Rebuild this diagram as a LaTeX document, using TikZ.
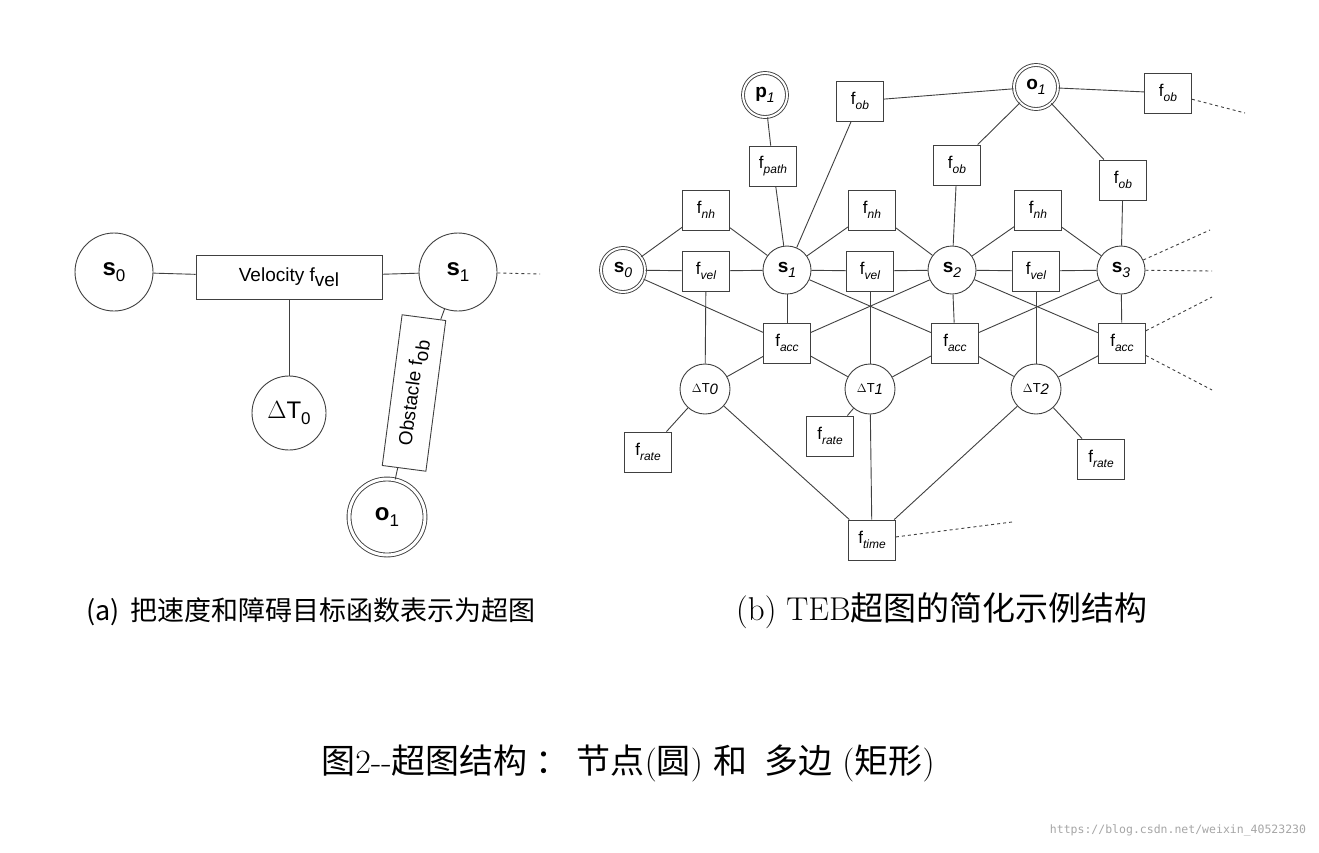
\documentclass[tikz,border=0pt]{standalone}
\usepackage{fontspec}
\newfontfamily\lib{Liberation Sans}
\newfontfamily\cjk{Noto Sans CJK SC}
\newfontfamily\mono{DejaVu Sans Mono}
\newcommand{\fx}[1]{f\raisebox{-0.5ex}{\fontsize{12}{14}\selectfont\itshape #1}}
\newcommand{\vx}[2]{\textbf{#1}\raisebox{-0.5ex}{\fontsize{14}{16}\selectfont\itshape #2}}
\newcommand{\sbx}[1]{\raisebox{-0.5ex}{\fontsize{17}{19}\selectfont #1}}
\begin{document}
\begin{tikzpicture}[x=1pt,y=-1pt,
  every node/.style={font=\lib},
  sq/.style={draw=black!75,line width=0.9pt,minimum width=47pt,minimum height=40pt,inner sep=0pt,fill=white,font=\lib\fontsize{17}{19}\selectfont},
  cir/.style={draw=black!75,line width=0.9pt,circle,minimum size=48pt,inner sep=0pt,fill=white,font=\lib\fontsize{19}{21}\selectfont},
  dcir/.style={cir,double,double distance=2pt,minimum size=44pt},
  bigc/.style={cir,minimum size=78pt,font=\lib\fontsize{24}{28}\selectfont},
  ln/.style={draw=black!75,line width=0.9pt},
  dl/.style={ln,dashed}]
\useasboundingbox (0,0) rectangle (1319,852);
\fill[white] (0,0) rectangle (1319,852);
% ---------- (a)
\node[bigc] (as0) at (114,272) {\textbf{s}\sbx{0}};
\node[bigc] (as1) at (458,272) {\textbf{s}\sbx{1}};
\node[draw=black!75,line width=0.9pt,minimum width=186pt,minimum height=44pt,font=\lib\fontsize{19}{22}\selectfont] (avel) at (289,277) {Velocity f\raisebox{-0.5ex}{vel}};
\node[bigc,minimum size=74pt] (adt) at (289,413) {$\Delta$T\sbx{0}};
\node[draw=black!75,line width=0.9pt,minimum width=152pt,minimum height=44pt,inner sep=2pt,rotate=82.5,font=\lib\fontsize{19}{22}\selectfont] (aob) at (414,393) {Obstacle f\raisebox{-0.5ex}{ob}};
\node[bigc,double,double distance=3pt,minimum size=76pt] (ao1) at (387,517) {\textbf{o}\sbx{1}};
\coordinate (ad) at (540,274);
\draw[ln] (as0) -- (avel); \draw[ln] (avel) -- (as1);
\draw[ln] (avel) -- (adt);
\draw[ln] (as1) -- (aob); \draw[ln] (aob) -- (ao1);
\draw[dl] (as1) -- (ad);
% ---------- (b)
\node[dcir] (s0) at (623,270) {\vx{s}{0}};
\node[cir] (s1) at (787,270) {\vx{s}{1}};
\node[cir] (s2) at (952,270) {\vx{s}{2}};
\node[cir] (s3) at (1121,270) {\vx{s}{3}};
\node[sq] (v1) at (706,271) {\fx{vel}};
\node[sq] (v2) at (870,271) {\fx{vel}};
\node[sq] (v3) at (1036,271) {\fx{vel}};
\node[sq] (n1) at (706,210) {\fx{nh}};
\node[sq] (n2) at (872,210) {\fx{nh}};
\node[sq] (n3) at (1038,210) {\fx{nh}};
\node[sq] (a1) at (787,343) {\fx{acc}};
\node[sq] (a2) at (955,343) {\fx{acc}};
\node[sq] (a3) at (1122,343) {\fx{acc}};
\node[cir,minimum size=50pt,font=\lib\fontsize{13}{15}\selectfont] (t0) at (705,389) {$\Delta$T\raisebox{-0.4ex}{\fontsize{15}{17}\selectfont\itshape 0}};
\node[cir,minimum size=50pt,font=\lib\fontsize{13}{15}\selectfont] (t1) at (870,389) {$\Delta$T\raisebox{-0.4ex}{\fontsize{15}{17}\selectfont\itshape 1}};
\node[cir,minimum size=50pt,font=\lib\fontsize{13}{15}\selectfont] (t2) at (1036,389) {$\Delta$T\raisebox{-0.4ex}{\fontsize{15}{17}\selectfont\itshape 2}};
\node[sq] (r0) at (648,452) {\fx{rate}};
\node[sq] (r1) at (830,436) {\fx{rate}};
\node[sq] (r2) at (1101,459) {\fx{rate}};
\node[sq] (tm) at (872,540) {\fx{time}};
\node[dcir] (p1) at (765,95) {\vx{p}{1}};
\node[sq] (fp) at (773,166) {\fx{path}};
\node[sq] (ob1) at (860,101) {\fx{ob}};
\node[dcir] (o1) at (1036,87) {\vx{o}{1}};
\node[sq] (ob2) at (1168,93) {\fx{ob}};
\node[sq] (ob3) at (957,165) {\fx{ob}};
\node[sq] (ob4) at (1123,180) {\fx{ob}};
\foreach \a/\b in {s0/v1,v1/s1,s1/v2,v2/s2,s2/v3,v3/s3,
  s0/n1,n1/s1,s1/n2,n2/s2,s2/n3,n3/s3,
  s1/a1,s2/a2,s3/a3,s0/a1,a1/s2,s1/a2,a2/s3,s2/a3,
  v1/t0,v2/t1,v3/t2,a1/t0,a1/t1,a2/t1,a2/t2,a3/t2,
  t0/r0,t1/r1,t2/r2,t0/tm,t1/tm,t2/tm,
  p1/fp,fp/s1,ob1/s1,ob1/o1,o1/ob2,o1/ob3,ob3/s2,o1/ob4,ob4/s3}
  \draw[ln] (\a) -- (\b);
\coordinate (d1) at (1245,113); \coordinate (d2) at (1210,230);
\coordinate (d3) at (1212,271); \coordinate (d4) at (1212,297);
\coordinate (d5) at (1212,390); \coordinate (d6) at (1012,522);
\draw[dl] (ob2) -- (d1); \draw[dl] (s3) -- (d2); \draw[dl] (s3) -- (d3);
\draw[dl] (a3) -- (d4); \draw[dl] (a3) -- (d5); \draw[dl] (tm) -- (d6);
% ---------- captions
\node[font=\cjk\fontsize{27}{31}\selectfont] (ca) at (311,612) {(a)\, 把速度和障碍目标函数表示为超图};
\node[font=\fontsize{33}{38}\selectfont] (cb) at (942,611) {(b) TEB{\cjk 超图的简化示例结构}};
\node[font=\fontsize{34}{40}\selectfont] (cc) at (628,763) {{\cjk 图}2{-}{-}{\cjk 超图结构 ： 节点}({\cjk 圆}) {\cjk 和\; 多边} ({\cjk 矩形})};
\node[font=\mono\fontsize{11.5}{14}\selectfont,text=black!35] (wm) at (1178,830) {https://blog.csdn.net/weixin\_40523230};
\end{tikzpicture}
\end{document}
